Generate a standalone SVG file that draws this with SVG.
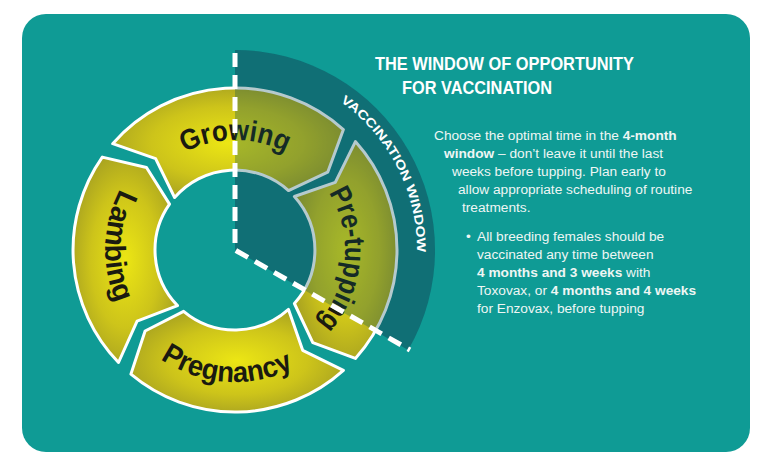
<svg xmlns="http://www.w3.org/2000/svg" width="773" height="468" viewBox="0 0 773 468">
<style>
.seg{stroke:#ffffff;stroke-width:3;stroke-linejoin:round}
.lbl{font-family:"Liberation Sans",Arial,sans-serif;font-weight:bold;font-size:29px;fill:#1a1a10}
.ttl{font-family:"Liberation Sans",Arial,sans-serif;font-weight:bold;font-size:19px;fill:#ffffff}
.body{font-family:"Liberation Sans",Arial,sans-serif;font-size:13.7px;fill:#eef6f4}
.body tspan.b{font-weight:bold}
</style>
<defs>
<radialGradient id="yg" cx="0.5" cy="0.5" r="0.6">
<stop offset="0" stop-color="#ece614"/>
<stop offset="0.55" stop-color="#cdc41a"/>
<stop offset="1" stop-color="#9f9a22"/>
</radialGradient>
<path id="pGrow" d="M125,250 A110,110 0 0 1 345,250"/>
<path id="pPre" d="M244.6,140.4 A110,110 0 0 1 225.4,359.6"/>
<path id="pPreg" d="M103.3,240.8 A132,132 0 0 0 366.7,259.2"/>
<path id="pLamb" d="M239.6,118.1 A132,132 0 0 0 230.4,381.9"/>
<path id="pWin" d="M152.4,87.8 A182,182 0 0 1 317.6,412.2"/>
</defs>
<rect x="0" y="0" width="773" height="468" fill="#ffffff"/>
<rect x="22" y="14" width="728" height="438" rx="24" fill="#0f9b95"/>
<path id="window" d="M235,250 L235,50 A200,200 0 0 1 408.2,350 Z" fill="#137d81"/>
<g id="growing"><path class="seg" fill="url(#yg)" d="M112.7,143.7 A162,162 0 0 1 343.4,129.6 L327.7,172.2 L288.5,190.6 A80,80 0 0 0 174.6,197.5 L155.6,158.7 Z"/>
<text class="lbl"><textPath href="#pGrow" startOffset="50%" text-anchor="middle" textLength="105" lengthAdjust="spacingAndGlyphs">Growing</textPath></text></g>
<g id="pretupping"><path class="seg" fill="url(#yg)" d="M355.4,141.6 A162,162 0 0 1 355.4,358.4 L312.8,342.7 L294.4,303.5 A80,80 0 0 0 294.4,196.5 L335.3,182.3 Z"/>
<text class="lbl"><textPath href="#pPre" startOffset="50%" text-anchor="middle" textLength="140" lengthAdjust="spacingAndGlyphs">Pre-tupping</textPath></text></g>
<g id="pregnancy"><path class="seg" fill="url(#yg)" d="M343.4,370.4 A162,162 0 0 1 130.9,374.1 L145.1,331.0 L183.6,311.3 A80,80 0 0 0 288.5,309.4 L302.7,350.3 Z"/>
<text class="lbl"><textPath href="#pPreg" startOffset="50%" text-anchor="middle" textLength="140" lengthAdjust="spacingAndGlyphs">Pregnancy</textPath></text></g>
<g id="lambing"><path class="seg" fill="url(#yg)" d="M118.5,362.5 A162,162 0 0 1 102.3,157.1 L146.5,167.5 L169.5,204.1 A80,80 0 0 0 177.5,305.6 L137.1,321.1 Z"/>
<text class="lbl"><textPath href="#pLamb" startOffset="50%" text-anchor="middle" textLength="118" lengthAdjust="spacingAndGlyphs">Lambing</textPath></text></g>
<path d="M235,250 L235,50 A200,200 0 0 1 408.2,350 Z" fill="#0a4f58" opacity="0.3"/>
<text font-family="Liberation Sans,Arial,sans-serif" font-weight="bold" font-size="12.5" fill="#ffffff"><textPath href="#pWin" startOffset="50%" text-anchor="middle" textLength="176" lengthAdjust="spacingAndGlyphs">VACCINATION WINDOW</textPath></text>
<g id="connectors"><path d="M235,53 L235,250 L410,350" fill="none" stroke="#ffffff" stroke-width="5" stroke-dasharray="14 8"/></g>
<g id="title">
<text class="ttl" x="375" y="70" textLength="259" lengthAdjust="spacingAndGlyphs">THE WINDOW OF OPPORTUNITY</text>
<text class="ttl" x="402" y="94" textLength="150" lengthAdjust="spacingAndGlyphs">FOR VACCINATION</text>
</g>
<g id="body" class="body">
<text x="434" y="140">Choose the optimal time in the <tspan class="b">4-month</tspan></text>
<text x="444" y="158"><tspan class="b">window</tspan> – don’t leave it until the last</text>
<text x="452" y="176">weeks before tupping. Plan early to</text>
<text x="458" y="194">allow appropriate scheduling of routine</text>
<text x="462" y="212">treatments.</text>
<text x="466" y="241">•</text>
<text x="477" y="241">All breeding females should be</text>
<text x="477" y="259">vaccinated any time between</text>
<text x="477" y="277"><tspan class="b">4 months and 3 weeks</tspan> with</text>
<text x="477" y="295">Toxovax, or <tspan class="b">4 months and 4 weeks</tspan></text>
<text x="477" y="313">for Enzovax, before tupping</text>
</g>
</svg>
